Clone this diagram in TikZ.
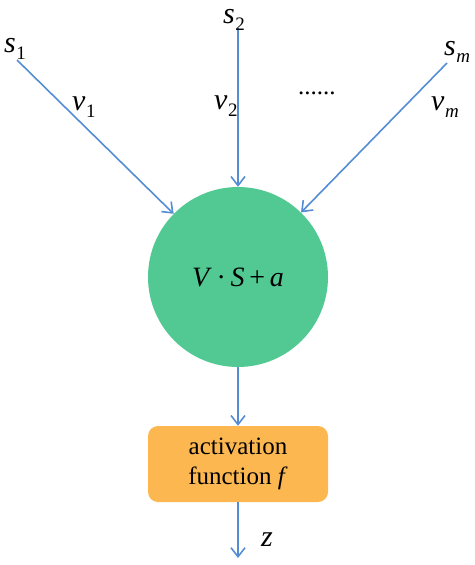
\documentclass[tikz,border=0pt]{standalone}
\usepackage{fontspec}
\setmainfont{LiberationSerif}[Extension=.ttf, UprightFont=*-Regular, ItalicFont=*-Italic, BoldFont=*-Bold, BoldItalicFont=*-BoldItalic]
\usetikzlibrary{arrows.meta}
\definecolor{lineblue}{RGB}{84,141,212}
\definecolor{nodegreen}{RGB}{82,201,147}
\definecolor{boxorange}{RGB}{252,183,80}
\newcommand{\msub}[2]{\textit{#1}\kern0.5pt\raisebox{-0.25em}{\fontsize{19}{19}\selectfont #2}}
\begin{document}
\begin{tikzpicture}[x=1pt,y=-1pt,
  conn/.style={draw=lineblue, line width=1.6pt, -{Straight Barb[length=9pt,width=14pt,line width=1.6pt]}},
  lbl/.style={font=\fontsize{30}{32}\selectfont, inner sep=0pt, anchor=base west}]
\useasboundingbox (0,0) rectangle (474,565);
\node[circle, fill=nodegreen, minimum size=180pt, inner sep=0pt, font=\fontsize{28}{30}\selectfont] (c) at (238,277) {\textit{V}\,·\,\textit{S}\,+\,\textit{a}};
\node[rounded corners=10pt, fill=boxorange, minimum width=180pt, minimum height=76pt, align=center, font=\fontsize{25}{30}\selectfont] (f) at (238,464) {activation\\function \textit{f}};
\coordinate (a1) at (17,60);
\coordinate (a2) at (238,28);
\coordinate (am) at (447,63);
\coordinate (zend) at (238,558);
\draw[conn] (a1) -- (c);
\draw[conn] (a2) -- (c);
\draw[conn] (am) -- (c);
\draw[conn] (c) -- (f);
\draw[conn] (f) -- (zend);
\node[lbl] (s1) at (4,52) {\msub{s}{1}};
\node[lbl] (s2) at (223,23) {\msub{s}{2}};
\node[lbl] (sm) at (444,55) {\msub{s}{\textit{m}}};
\node[lbl] (v1) at (72,110) {\msub{v}{1}};
\node[lbl] (v2) at (214,109) {\msub{v}{2}};
\node[lbl] (vm) at (431,110) {\msub{v}{\textit{m}}};
\node[lbl, font=\fontsize{25}{28}\selectfont] (dots) at (298,94) {......};
\node[lbl] (z) at (261,546) {\textit{z}};
\end{tikzpicture}
\end{document}
